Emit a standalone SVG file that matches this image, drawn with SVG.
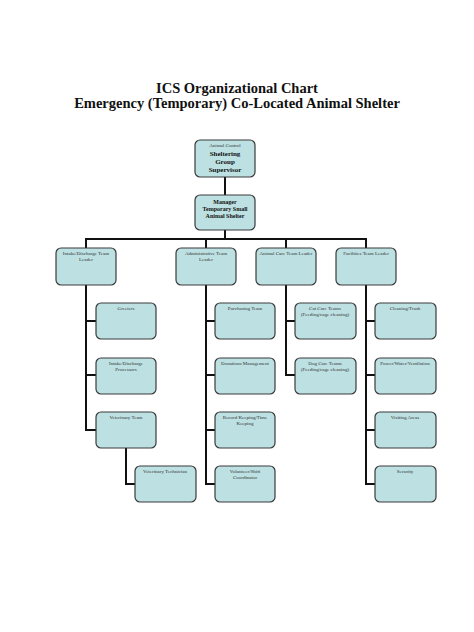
<svg xmlns="http://www.w3.org/2000/svg" width="474" height="632" viewBox="0 0 474 632">
<style>
.b{fill:#bde0e2;stroke:#3a3a3a;stroke-width:1.2}
.t{font-family:"Liberation Serif",serif;font-size:5px;fill:#333;text-anchor:middle}
.h{font-family:"Liberation Serif",serif;font-weight:bold;fill:#111;text-anchor:middle}
.c{fill:none;stroke:#111;stroke-width:2}
</style>
<rect width="474" height="632" fill="#fff"/>
<text class="h" x="237" y="93" font-size="14.5">ICS Organizational Chart</text>
<text class="h" x="237" y="108" font-size="14.5">Emergency (Temporary) Co-Located Animal Shelter</text>
<g id="connectors">
<path class="c" d="M225 177V195M225 230V239M86 248V239H366V248M206 239V248M286 239V248"/>
<path class="c" d="M86 285V430H96M86 321H96M86 375H96M126 447V484H135"/>
<path class="c" d="M206 285V484H215M206 321H215M206 375H215M206 430H215"/>
<path class="c" d="M286 285V375H295M286 321H295"/>
<path class="c" d="M366 285V484H375M366 321H375M366 375H375M366 430H375"/>
</g>
<g id="supervisor"><rect class="b" x="195" y="140" width="60" height="37" rx="5"/>
<text class="t" x="225" y="147">Animal Control</text>
<text class="h" x="225" y="156" font-size="7">Sheltering</text><text class="h" x="225" y="164" font-size="7">Group</text><text class="h" x="225" y="172" font-size="7">Supervisor</text></g>
<g id="manager"><rect class="b" x="195" y="195" width="60" height="35" rx="5"/>
<text class="h" x="225" y="204" font-size="6">Manager</text><text class="h" x="225" y="211" font-size="6">Temporary Small</text><text class="h" x="225" y="218" font-size="6">Animal Shelter</text></g>
<g id="intake-leader"><rect class="b" x="56" y="248" width="60" height="37" rx="5"/><text class="t" x="86" y="255">Intake/Discharge Team</text><text class="t" x="86" y="261">Leader</text></g>
<g id="admin-leader"><rect class="b" x="176" y="248" width="60" height="37" rx="5"/><text class="t" x="206" y="255">Administrative Team</text><text class="t" x="206" y="261">Leader</text></g>
<g id="animalcare-leader"><rect class="b" x="256" y="248" width="60" height="37" rx="5"/><text class="t" x="286" y="255">Animal Care Team Leader</text></g>
<g id="facilities-leader"><rect class="b" x="336" y="248" width="60" height="37" rx="5"/><text class="t" x="366" y="255">Facilities Team Leader</text></g>
<g id="greeters"><rect class="b" x="96" y="303" width="60" height="36" rx="5"/><text class="t" x="126" y="310">Greeters</text></g>
<g id="processors"><rect class="b" x="96" y="358" width="60" height="36" rx="5"/><text class="t" x="126" y="365">Intake/Discharge</text><text class="t" x="126" y="371">Processors</text></g>
<g id="vet-team"><rect class="b" x="96" y="412" width="60" height="36" rx="5"/><text class="t" x="126" y="419">Veterinary Team</text></g>
<g id="vet-tech"><rect class="b" x="135" y="466" width="61" height="36" rx="5"/><text class="t" x="165" y="473">Veterinary Technician</text></g>
<g id="purchasing"><rect class="b" x="215" y="303" width="60" height="36" rx="5"/><text class="t" x="245" y="310">Purchasing Team</text></g>
<g id="donations"><rect class="b" x="215" y="358" width="60" height="36" rx="5"/><text class="t" x="245" y="365">Donations Management</text></g>
<g id="records"><rect class="b" x="215" y="412" width="60" height="36" rx="5"/><text class="t" x="245" y="419">Record Keeping/Time</text><text class="t" x="245" y="425">Keeping</text></g>
<g id="volunteer"><rect class="b" x="215" y="466" width="60" height="36" rx="5"/><text class="t" x="245" y="473">Volunteer/Shift</text><text class="t" x="245" y="479">Coordinator</text></g>
<g id="cat"><rect class="b" x="295" y="303" width="61" height="36" rx="5"/><text class="t" x="325" y="310">Cat Care Teams</text><text class="t" x="325" y="316">(Feeding/cage cleaning)</text></g>
<g id="dog"><rect class="b" x="295" y="358" width="61" height="36" rx="5"/><text class="t" x="325" y="365">Dog Care Teams</text><text class="t" x="325" y="371">(Feeding/cage cleaning)</text></g>
<g id="cleaning"><rect class="b" x="375" y="303" width="61" height="36" rx="5"/><text class="t" x="405" y="310">Cleaning/Trash</text></g>
<g id="power"><rect class="b" x="375" y="358" width="61" height="36" rx="5"/><text class="t" x="405" y="365">Power/Water/Ventilation</text></g>
<g id="visiting"><rect class="b" x="375" y="412" width="61" height="36" rx="5"/><text class="t" x="405" y="419">Visiting Areas</text></g>
<g id="security"><rect class="b" x="375" y="466" width="61" height="36" rx="5"/><text class="t" x="405" y="473">Security</text></g>
</svg>
